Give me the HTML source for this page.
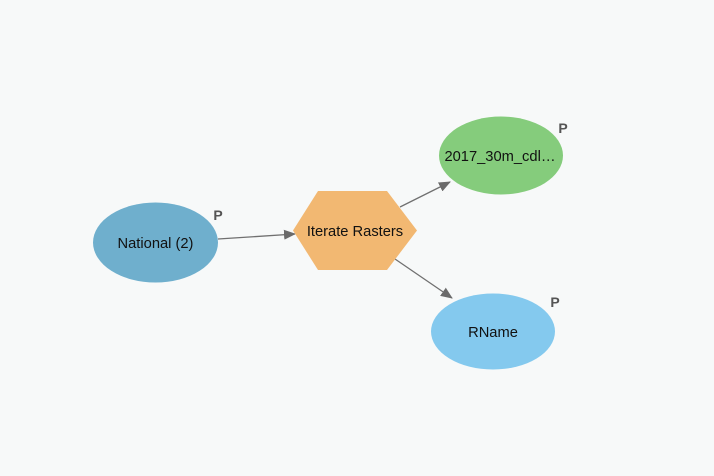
<!DOCTYPE html>
<html><head><meta charset="utf-8"><style>
html,body{margin:0;padding:0;background:#f7f9f9;}
svg{display:block;}
text{font-family:"Liberation Sans",Arial,sans-serif;}
</style></head><body>
<svg width="714" height="476" viewBox="0 0 714 476" xmlns="http://www.w3.org/2000/svg">
<rect width="714" height="476" fill="#f7f9f9"/>
<defs>
<marker id="a" markerWidth="12" markerHeight="10" refX="11" refY="5" orient="auto" markerUnits="userSpaceOnUse">
<path d="M0,0 L12,5 L0,10 z" fill="#6b6b6b"/>
</marker>
</defs>
<line x1="218" y1="239" x2="295" y2="234" stroke="#707070" stroke-width="1.3" marker-end="url(#a)"/>
<line x1="400" y1="207" x2="450" y2="182" stroke="#707070" stroke-width="1.3" marker-end="url(#a)"/>
<line x1="395" y1="259" x2="452" y2="298" stroke="#707070" stroke-width="1.3" marker-end="url(#a)"/>
<ellipse cx="155.5" cy="242.5" rx="62.5" ry="40" fill="#6fafcd"/>
<polygon points="318,191 387,191 417,230.5 387,270 318,270 293,230.5" fill="#f2b872"/>
<ellipse cx="501" cy="155.5" rx="62" ry="39" fill="#85cc7c"/>
<ellipse cx="493" cy="331.5" rx="62" ry="38" fill="#84c9ee"/>
<text x="155.5" y="248" font-size="14.7" text-anchor="middle" fill="#111">National (2)</text>
<text x="355" y="236" font-size="14.7" text-anchor="middle" fill="#111">Iterate Rasters</text>
<text x="500" y="161" font-size="14.7" text-anchor="middle" fill="#111">2017_30m_cdl…</text>
<text x="493" y="337" font-size="14.7" text-anchor="middle" fill="#111">RName</text>
<text x="218" y="220" font-size="14" font-weight="bold" text-anchor="middle" fill="#555">P</text>
<text x="563" y="133" font-size="14" font-weight="bold" text-anchor="middle" fill="#555">P</text>
<text x="555" y="307" font-size="14" font-weight="bold" text-anchor="middle" fill="#555">P</text>
</svg>
</body></html>
